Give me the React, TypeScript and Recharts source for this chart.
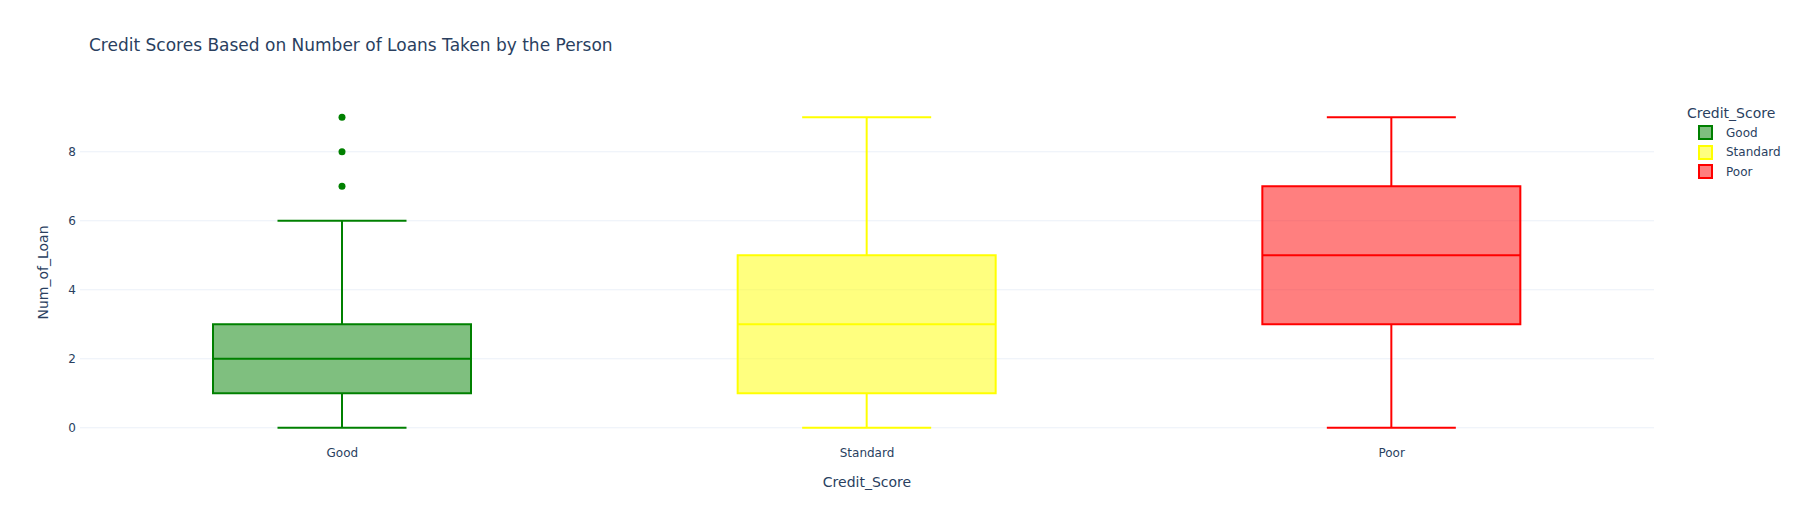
import React from "react";
import {
  ComposedChart,
  Bar,
  XAxis,
  YAxis,
  CartesianGrid,
  Label,
} from "recharts";

// categories and box statistics
const categories = ["Good", "Standard", "Poor"];
const mins = [0, 0, 0];
const q1s = [1, 1, 3];
const medians = [2, 3, 5];
const q3s = [3, 5, 7];
const maxs = [6, 9, 9];
const outliers: number[][] = [[7, 8, 9], [], []];
const lineColors = ["#008000", "#ffff00", "#ff0000"];
const fillColors = [
  "rgba(0,128,0,0.5)",
  "rgba(255,255,0,0.5)",
  "rgba(255,0,0,0.5)",
];
const yTicks = [0, 2, 4, 6, 8];

const FONT = '"DejaVu Sans", Verdana, sans-serif';
const TEXT = "#2a3f5f";

interface Row {
  name: string;
  range: [number, number];
  min: number;
  q1: number;
  median: number;
  q3: number;
  max: number;
  outliers: number[];
  idx: number;
}

const rows: Row[] = categories.map((name, i) => ({
  name,
  range: [mins[i], maxs[i]],
  min: mins[i],
  q1: q1s[i],
  median: medians[i],
  q3: q3s[i],
  max: maxs[i],
  outliers: outliers[i],
  idx: i,
}));

// draws one box from the bar's whisker-range rectangle
const BoxShape = (props: any) => {
  const { x, y, width, height, payload } = props;
  const p: Row = payload;
  const span = p.max - p.min;
  const py = (v: number) => y + (height * (p.max - v)) / span;
  const cx = x + width / 2;
  const stroke = lineColors[p.idx];
  const fill = fillColors[p.idx];
  const capHalf = width / 4;
  return (
    <g>
      <line x1={cx} x2={cx} y1={py(p.max)} y2={py(p.q3)} stroke={stroke} strokeWidth={2} />
      <line x1={cx} x2={cx} y1={py(p.q1)} y2={py(p.min)} stroke={stroke} strokeWidth={2} />
      <line x1={cx - capHalf} x2={cx + capHalf} y1={py(p.max)} y2={py(p.max)} stroke={stroke} strokeWidth={2} />
      <line x1={cx - capHalf} x2={cx + capHalf} y1={py(p.min)} y2={py(p.min)} stroke={stroke} strokeWidth={2} />
      <rect
        x={x}
        y={py(p.q3)}
        width={width}
        height={py(p.q1) - py(p.q3)}
        fill={fill}
        stroke={stroke}
        strokeWidth={2}
      />
      <line x1={x} x2={x + width} y1={py(p.median)} y2={py(p.median)} stroke={stroke} strokeWidth={2} />
      {p.outliers.map((v) => (
        <circle key={v} cx={cx} cy={py(v)} r={3.5} fill={stroke} />
      ))}
    </g>
  );
};

const LegendBox = () => (
  <div
    style={{
      position: "absolute",
      left: 1687,
      top: 105,
      fontFamily: FONT,
      color: TEXT,
    }}
  >
    <div style={{ fontSize: 14, marginBottom: 2 }}>Credit_Score</div>
    {categories.map((c, i) => (
      <div
        key={c}
        style={{ display: "flex", alignItems: "center", height: 19.5, fontSize: 12 }}
      >
        <span
          style={{
            display: "inline-block",
            width: 11,
            height: 11,
            marginLeft: 11,
            marginRight: 13,
            background: fillColors[i],
            border: `2px solid ${lineColors[i]}`,
          }}
        />
        {c}
      </div>
    ))}
  </div>
);

export default function App() {
  return (
    <div
      style={{
        position: "absolute",
        left: 0,
        top: 0,
        width: 1798,
        height: 525,
        background: "#fff",
      }}
    >
      <div
        style={{
          position: "absolute",
          left: 89,
          top: 35,
          fontFamily: FONT,
          fontSize: 17,
          color: TEXT,
        }}
      >
        Credit Scores Based on Number of Loans Taken by the Person
      </div>
      <ComposedChart
        width={1798}
        height={525}
        data={rows}
        margin={{ top: 100, right: 144, bottom: 50, left: 40 }}
      >
        <CartesianGrid
          vertical={false}
          horizontalValues={yTicks}
          stroke="#ebf0f8"
          strokeWidth={1}
        />
        <XAxis
          dataKey="name"
          axisLine={false}
          tickLine={false}
          tickSize={0}
          tickMargin={3}
          height={30}
          tick={{ fill: TEXT, fontSize: 12, fontFamily: FONT }}
        >
          <Label
            value="Credit_Score"
            position="insideBottom"
            offset={-12}
            style={{ fill: TEXT, fontSize: 14, fontFamily: FONT }}
          />
        </XAxis>
        <YAxis
          type="number"
          domain={[-0.5, 9.5]}
          ticks={yTicks}
          axisLine={false}
          tickLine={false}
          tickSize={0}
          tickMargin={4}
          width={40}
          tick={{ fill: TEXT, fontSize: 12, fontFamily: FONT }}
        >
          <Label
            value="Num_of_Loan"
            angle={-90}
            position="insideLeft"
            offset={3}
            style={{ fill: TEXT, fontSize: 14, fontFamily: FONT, textAnchor: "middle" }}
          />
        </YAxis>
        <Bar
          dataKey="range"
          barSize={258}
          shape={<BoxShape />}
          isAnimationActive={false}
        />
      </ComposedChart>
      <LegendBox />
    </div>
  );
}
